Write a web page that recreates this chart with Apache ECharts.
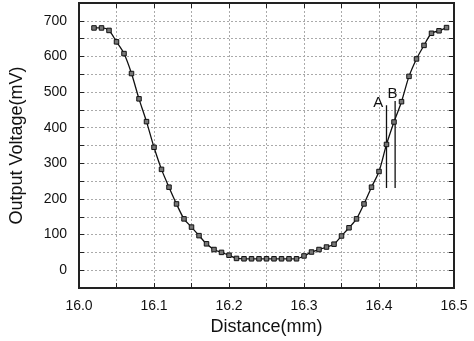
<!DOCTYPE html>
<html><head><meta charset="utf-8">
<script src="https://cdn.jsdelivr.net/npm/echarts@6/dist/echarts.min.js"></script>
<style>html,body{margin:0;padding:0;background:#fff}#c{width:474px;height:341px}</style>
</head><body><div id="c"></div>
<script>
const distance = [16.02,16.03,16.04,16.05,16.06,16.07,16.08,16.09,16.10,16.11,16.12,16.13,16.14,16.15,16.16,16.17,16.18,16.19,16.20,16.21,16.22,16.23,16.24,16.25,16.26,16.27,16.28,16.29,16.30,16.31,16.32,16.33,16.34,16.35,16.36,16.37,16.38,16.39,16.40,16.41,16.42,16.43,16.44,16.45,16.46,16.47,16.48,16.49];
const voltage = [680,680,673,641,608,552,481,417,345,283,233,186,144,121,97,74,58,50,42,33,32,32,32,32,32,32,32,32,40,51,58,65,73,96,119,144,186,233,277,353,416,473,544,593,631,665,672,681];
const lineA = [[16.41,231],[16.41,463]];
const lineB = [[16.4215,231],[16.4215,475]];
const markLabels = [{name:'A', value:[16.399,470]},{name:'B', value:[16.418,496]}];

const data = distance.map((d,i)=>[d, voltage[i]]);
const font = 'Liberation Sans, Arial, sans-serif';
const gridLine = {show:true, lineStyle:{color:'#aaa', type:[2,2], width:1}};
const xLab = v => { const r = Math.round(v*100); return r % 10 === 0 ? (r/100).toFixed(1) : ''; };
const yLab = v => (v >= 0 && v <= 700 && v % 100 === 0) ? String(v) : '';
const axLine = {show:true, onZero:false, lineStyle:{color:'#222', width:2}};
const axTick = {show:true, inside:true, length:5, lineStyle:{color:'#222'}};

const chart = echarts.init(document.getElementById('c'));
chart.setOption({
  animation:false,
  grid:{left:76, right:20, top:3, bottom:52, show:true, borderColor:'#222', borderWidth:2, backgroundColor:'transparent'},
  xAxis:[
    {type:'value', min:16.0, max:16.5, interval:0.05, position:'bottom',
     name:'Distance(mm)', nameLocation:'middle', nameGap:30,
     nameTextStyle:{fontFamily:font, fontSize:18, color:'#111'},
     axisLine:axLine, axisTick:axTick,
     axisLabel:{formatter:xLab, fontFamily:font, fontSize:14, color:'#111', margin:11},
     splitLine:gridLine},
    {type:'value', min:16.0, max:16.5, interval:0.05, position:'top',
     axisLine:axLine, axisTick:axTick,
     axisLabel:{show:false}, splitLine:{show:false}}
  ],
  yAxis:[
    {type:'value', min:-50, max:750, interval:50, position:'left',
     name:'Output Voltage(mV)', nameLocation:'middle', nameGap:53,
     nameTextStyle:{fontFamily:font, fontSize:18, color:'#111'},
     axisLine:axLine, axisTick:axTick,
     axisLabel:{formatter:yLab, fontFamily:font, fontSize:14, color:'#111', margin:12},
     splitLine:gridLine},
    {type:'value', min:-50, max:750, interval:50, position:'right',
     axisLine:axLine, axisTick:axTick,
     axisLabel:{show:false}, splitLine:{show:false}}
  ],
  series:[
    {type:'line', data:data, smooth:0.3, symbol:'rect', symbolSize:4.5,
     lineStyle:{color:'#111', width:1.3},
     itemStyle:{color:'#777', borderColor:'#111', borderWidth:1}},
    {type:'line', data:lineA, symbol:'none', lineStyle:{color:'#111', width:1.3}},
    {type:'line', data:lineB, symbol:'none', lineStyle:{color:'#111', width:1.3}},
    {type:'scatter', data:markLabels, symbolSize:1, itemStyle:{opacity:0},
     label:{show:true, position:'inside', formatter:p=>p.name, fontFamily:font, fontSize:15, color:'#111', opacity:1}}
  ]
});
</script></body></html>
